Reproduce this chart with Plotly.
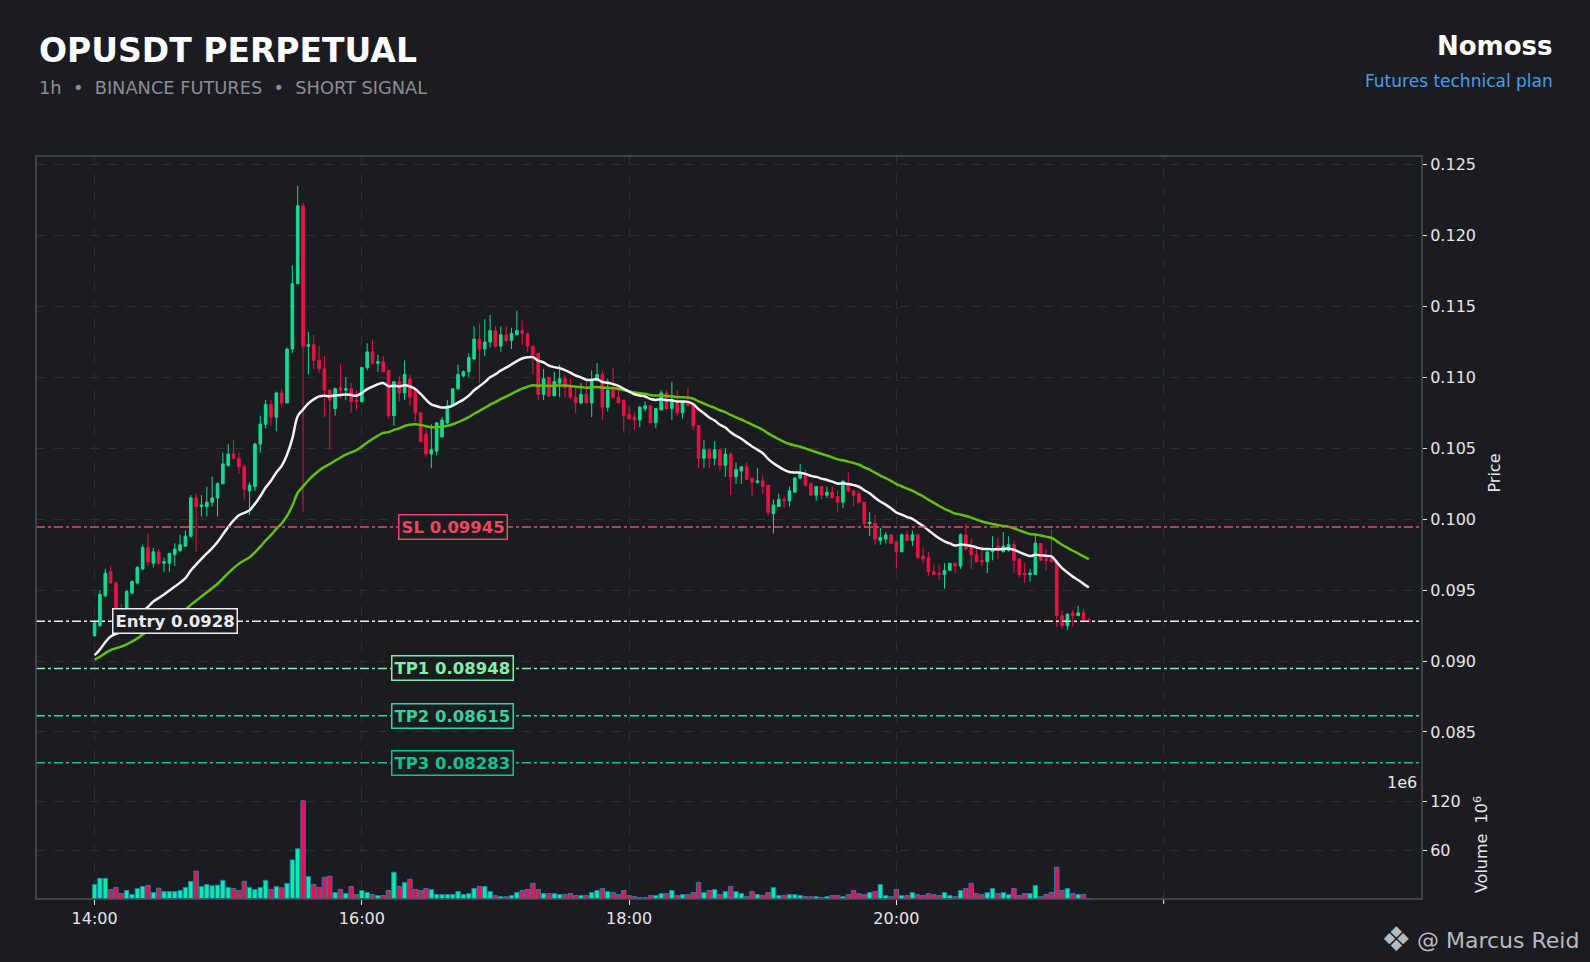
import pandas as pd
import plotly.graph_objects as go
from plotly.subplots import make_subplots

# ---- chart text ----
SYMBOL = "OPUSDT PERPETUAL"
SUBTITLE = "1h\u00a0\u00a0•\u00a0\u00a0BINANCE FUTURES\u00a0\u00a0•\u00a0\u00a0SHORT SIGNAL"
BRAND = "Nomoss"
BRAND_SUB = "Futures technical plan"
WATERMARK = "@ Marcus Reid"

# ---- candles (one every 144 s from 14:00) ----
START = "2024-05-20 14:00:00"
STEP = "144s"

OPEN = [
    0.0918, 0.0925, 0.0946, 0.0963, 0.0955, 0.0937, 0.0932, 0.0948, 0.0955, 0.0965,
    0.0980, 0.0969, 0.0977, 0.0969, 0.0969, 0.0975, 0.0978, 0.0981, 0.0988, 0.1015,
    0.1009, 0.1009, 0.1012, 0.1015, 0.1025, 0.1038, 0.1046, 0.1043, 0.1037, 0.1020,
    0.1023, 0.1053, 0.1067, 0.1081, 0.1072, 0.1089, 0.1082, 0.1120, 0.1166, 0.1221,
    0.1122, 0.1123, 0.1112, 0.1106, 0.1091, 0.1078, 0.1093, 0.1091, 0.1092, 0.1084,
    0.1083, 0.1107, 0.1118, 0.1110, 0.1111, 0.1105, 0.1073, 0.1097, 0.1089, 0.1099,
    0.1091, 0.1075, 0.1060, 0.1046, 0.1048, 0.1058, 0.1068, 0.1080, 0.1092, 0.1101,
    0.1104, 0.1113, 0.1127, 0.1120, 0.1125, 0.1133, 0.1122, 0.1130, 0.1126, 0.1130,
    0.1133, 0.1131, 0.1122, 0.1117, 0.1088, 0.1100, 0.1087, 0.1096, 0.1099, 0.1094,
    0.1086, 0.1082, 0.1088, 0.1082, 0.1098, 0.1102, 0.1079, 0.1091, 0.1086, 0.1084,
    0.1074, 0.1072, 0.1070, 0.1078, 0.1080, 0.1068, 0.1077, 0.1089, 0.1078, 0.1083,
    0.1075, 0.1083, 0.1081, 0.1066, 0.1043, 0.1049, 0.1043, 0.1049, 0.1038, 0.1046,
    0.1030, 0.1034, 0.1037, 0.1029, 0.1026, 0.1027, 0.1024, 0.1004, 0.1009, 0.1014,
    0.1013, 0.1019, 0.1029, 0.1032, 0.1025, 0.1017, 0.1023, 0.1017, 0.1019, 0.1016,
    0.1012, 0.1024, 0.1020, 0.1018, 0.1012, 0.0997, 0.0997, 0.0985, 0.0986, 0.0989,
    0.0984, 0.0977, 0.0989, 0.0985, 0.0989, 0.0974, 0.0973, 0.0963, 0.0962, 0.0961,
    0.0964, 0.0969, 0.0967, 0.0989, 0.0980, 0.0975, 0.0971, 0.0970, 0.0977, 0.0981,
    0.0977, 0.0978, 0.0982, 0.0972, 0.0962, 0.0961, 0.0961, 0.0983, 0.0972, 0.0972,
    0.0970, 0.0932, 0.0925, 0.0934, 0.0932, 0.0934, 0.0929,
]
HIGH = [
    0.0929, 0.0950, 0.0965, 0.0967, 0.0956, 0.0940, 0.0950, 0.0957, 0.0967, 0.0982,
    0.0990, 0.0980, 0.0979, 0.0973, 0.0976, 0.0983, 0.0989, 0.0992, 0.1017, 0.1018,
    0.1017, 0.1023, 0.1030, 0.1026, 0.1047, 0.1053, 0.1056, 0.1047, 0.1039, 0.1026,
    0.1054, 0.1073, 0.1084, 0.1084, 0.1090, 0.1092, 0.1121, 0.1179, 0.1235, 0.1223,
    0.1132, 0.1130, 0.1122, 0.1115, 0.1091, 0.1093, 0.1109, 0.1100, 0.1096, 0.1091,
    0.1107, 0.1124, 0.1126, 0.1116, 0.1115, 0.1105, 0.1097, 0.1101, 0.1112, 0.1102,
    0.1091, 0.1075, 0.1064, 0.1067, 0.1068, 0.1072, 0.1084, 0.1092, 0.1109, 0.1105,
    0.1117, 0.1136, 0.1138, 0.1141, 0.1144, 0.1136, 0.1136, 0.1136, 0.1135, 0.1147,
    0.1140, 0.1131, 0.1122, 0.1117, 0.1106, 0.1100, 0.1104, 0.1109, 0.1102, 0.1099,
    0.1093, 0.1096, 0.1098, 0.1105, 0.1110, 0.1105, 0.1099, 0.1107, 0.1093, 0.1084,
    0.1080, 0.1076, 0.1080, 0.1083, 0.1080, 0.1078, 0.1091, 0.1091, 0.1097, 0.1091,
    0.1083, 0.1093, 0.1081, 0.1066, 0.1056, 0.1049, 0.1055, 0.1049, 0.1050, 0.1047,
    0.1040, 0.1037, 0.1040, 0.1029, 0.1036, 0.1031, 0.1024, 0.1014, 0.1018, 0.1016,
    0.1023, 0.1030, 0.1039, 0.1035, 0.1026, 0.1023, 0.1023, 0.1023, 0.1023, 0.1020,
    0.1027, 0.1033, 0.1020, 0.1020, 0.1012, 0.1005, 0.1003, 0.0994, 0.0991, 0.0989,
    0.0984, 0.0990, 0.0992, 0.0992, 0.0989, 0.0980, 0.0977, 0.0968, 0.0968, 0.0969,
    0.0969, 0.0969, 0.0990, 0.0997, 0.0986, 0.0979, 0.0979, 0.0977, 0.0988, 0.0987,
    0.0991, 0.0988, 0.0985, 0.0972, 0.0969, 0.0965, 0.0989, 0.0983, 0.0979, 0.0993,
    0.0970, 0.0936, 0.0934, 0.0936, 0.0939, 0.0937, 0.0930,
]
LOW = [
    0.0917, 0.0924, 0.0945, 0.0955, 0.0932, 0.0930, 0.0931, 0.0947, 0.0954, 0.0964,
    0.0967, 0.0966, 0.0968, 0.0963, 0.0963, 0.0967, 0.0977, 0.0981, 0.0987, 0.0977,
    0.1002, 0.1002, 0.1009, 0.1002, 0.1025, 0.1037, 0.1042, 0.1032, 0.1014, 0.1003,
    0.1020, 0.1047, 0.1064, 0.1066, 0.1062, 0.1079, 0.1082, 0.1117, 0.1166, 0.1005,
    0.1102, 0.1106, 0.1103, 0.1072, 0.1049, 0.1073, 0.1085, 0.1084, 0.1075, 0.1077,
    0.1082, 0.1105, 0.1109, 0.1104, 0.1104, 0.1071, 0.1066, 0.1083, 0.1084, 0.1080,
    0.1069, 0.1054, 0.1044, 0.1036, 0.1045, 0.1058, 0.1067, 0.1079, 0.1091, 0.1100,
    0.1100, 0.1112, 0.1096, 0.1115, 0.1121, 0.1121, 0.1118, 0.1125, 0.1120, 0.1130,
    0.1123, 0.1118, 0.1102, 0.1084, 0.1084, 0.1086, 0.1087, 0.1086, 0.1086, 0.1085,
    0.1075, 0.1081, 0.1082, 0.1072, 0.1097, 0.1070, 0.1076, 0.1085, 0.1082, 0.1062,
    0.1070, 0.1063, 0.1065, 0.1076, 0.1068, 0.1064, 0.1077, 0.1077, 0.1070, 0.1073,
    0.1071, 0.1080, 0.1063, 0.1036, 0.1036, 0.1036, 0.1038, 0.1034, 0.1030, 0.1017,
    0.1025, 0.1025, 0.1028, 0.1016, 0.1025, 0.1018, 0.1003, 0.0990, 0.1009, 0.1008,
    0.1009, 0.1019, 0.1028, 0.1023, 0.1017, 0.1013, 0.1014, 0.1015, 0.1015, 0.1005,
    0.1008, 0.1019, 0.1009, 0.1011, 0.0994, 0.0988, 0.0982, 0.0982, 0.0983, 0.0983,
    0.0965, 0.0977, 0.0985, 0.0981, 0.0972, 0.0969, 0.0960, 0.0961, 0.0957, 0.0951,
    0.0964, 0.0962, 0.0965, 0.0978, 0.0965, 0.0970, 0.0967, 0.0962, 0.0971, 0.0972,
    0.0977, 0.0977, 0.0962, 0.0959, 0.0955, 0.0956, 0.0961, 0.0971, 0.0964, 0.0970,
    0.0924, 0.0923, 0.0922, 0.0924, 0.0932, 0.0927, 0.0927,
]
CLOSE = [
    0.0927, 0.0947, 0.0962, 0.0955, 0.0937, 0.0934, 0.0949, 0.0956, 0.0966, 0.0980,
    0.0970, 0.0977, 0.0969, 0.0970, 0.0976, 0.0979, 0.0982, 0.0988, 0.1015, 0.1009,
    0.1010, 0.1012, 0.1015, 0.1025, 0.1039, 0.1046, 0.1043, 0.1037, 0.1021, 0.1024,
    0.1053, 0.1067, 0.1081, 0.1072, 0.1089, 0.1082, 0.1120, 0.1166, 0.1221, 0.1122,
    0.1123, 0.1112, 0.1106, 0.1091, 0.1084, 0.1092, 0.1091, 0.1092, 0.1083, 0.1083,
    0.1107, 0.1118, 0.1110, 0.1111, 0.1104, 0.1073, 0.1097, 0.1089, 0.1102, 0.1086,
    0.1075, 0.1055, 0.1046, 0.1049, 0.1068, 0.1070, 0.1080, 0.1092, 0.1102, 0.1104,
    0.1114, 0.1127, 0.1120, 0.1125, 0.1133, 0.1122, 0.1130, 0.1126, 0.1131, 0.1133,
    0.1131, 0.1122, 0.1116, 0.1088, 0.1099, 0.1087, 0.1097, 0.1099, 0.1093, 0.1086,
    0.1082, 0.1088, 0.1082, 0.1098, 0.1102, 0.1079, 0.1091, 0.1086, 0.1082, 0.1073,
    0.1071, 0.1070, 0.1079, 0.1080, 0.1068, 0.1078, 0.1089, 0.1078, 0.1083, 0.1075,
    0.1083, 0.1080, 0.1066, 0.1043, 0.1049, 0.1043, 0.1049, 0.1038, 0.1046, 0.1030,
    0.1035, 0.1037, 0.1028, 0.1026, 0.1027, 0.1023, 0.1005, 0.1010, 0.1014, 0.1013,
    0.1020, 0.1029, 0.1032, 0.1024, 0.1017, 0.1023, 0.1017, 0.1019, 0.1015, 0.1012,
    0.1027, 0.1020, 0.1017, 0.1012, 0.0997, 0.0998, 0.0986, 0.0987, 0.0989, 0.0983,
    0.0977, 0.0989, 0.0985, 0.0989, 0.0973, 0.0972, 0.0963, 0.0961, 0.0961, 0.0964,
    0.0969, 0.0967, 0.0989, 0.0979, 0.0975, 0.0970, 0.0970, 0.0977, 0.0978, 0.0978,
    0.0981, 0.0982, 0.0971, 0.0961, 0.0961, 0.0962, 0.0983, 0.0971, 0.0971, 0.0970,
    0.0932, 0.0925, 0.0933, 0.0932, 0.0934, 0.0929, 0.0928,
]
# volume in millions of contracts
VOLUME = [
    18.0, 25.6, 25.6, 11.7, 14.3, 6.7, 10.5, 5.5, 13.0, 15.5,
    16.8, 8.0, 13.4, 9.2, 9.2, 9.2, 10.5, 14.3, 21.8, 34.4,
    15.5, 18.0, 16.4, 17.2, 23.1, 14.3, 13.0, 10.5, 21.8, 14.3,
    11.7, 14.3, 23.1, 11.7, 15.5, 13.8, 19.3, 48.3, 62.1, 121.3,
    27.7, 18.0, 14.3, 26.9, 28.1, 8.0, 11.7, 6.7, 15.5, 5.5,
    10.5, 8.0, 5.5, 4.2, 4.2, 10.5, 33.1, 15.5, 20.6, 24.3,
    11.7, 10.5, 13.0, 11.7, 5.5, 5.5, 5.5, 5.5, 9.2, 5.5,
    6.7, 13.0, 15.5, 15.5, 9.2, 4.2, 2.9, 2.9, 4.2, 8.0,
    10.5, 11.7, 19.3, 11.7, 6.7, 6.7, 6.7, 5.5, 5.5, 6.7,
    4.2, 4.2, 4.2, 8.0, 10.5, 13.0, 9.2, 8.0, 5.4, 10.5,
    4.2, 2.9, 1.7, 1.7, 4.2, 4.2, 6.7, 6.7, 10.5, 4.2,
    5.4, 5.4, 8.0, 20.5, 8.0, 10.5, 11.7, 5.4, 9.2, 15.5,
    9.2, 6.7, 2.9, 9.2, 5.4, 4.2, 8.0, 14.2, 4.2, 4.2,
    5.4, 5.4, 4.2, 2.9, 2.9, 2.9, 1.7, 2.9, 4.2, 4.2,
    2.9, 5.4, 10.5, 6.7, 5.4, 8.0, 9.2, 18.0, 4.2, 2.9,
    11.7, 4.2, 4.2, 8.0, 5.4, 4.2, 6.7, 5.4, 4.2, 8.0,
    4.2, 2.9, 10.5, 13.0, 19.3, 6.7, 5.4, 8.0, 13.0, 6.7,
    8.0, 5.4, 13.0, 4.2, 6.7, 6.7, 16.8, 2.9, 5.4, 8.0,
    39.4, 10.5, 13.0, 6.7, 5.5, 5.5, 0.5,
]

# moving averages: span and the value carried in from before the window
EMA_FAST_SPAN, EMA_FAST_SEED = 20, 0.09017
EMA_SLOW_SPAN, EMA_SLOW_SEED = 45, 0.08999

# trade plan levels
LEVEL_NAMES = ["SL", "Entry", "TP1", "TP2", "TP3"]
LEVEL_PRICES = [0.09945, 0.0928, 0.08948, 0.08615, 0.08283]
LEVEL_COLORS = ["#f0475e", "#ececec", "#7ff0a8", "#34d399", "#12c48b"]
LEVEL_LABEL_BAR = [67, 15, 67, 67, 67]

PRICE_TICKS = [0.085, 0.090, 0.095, 0.100, 0.105, 0.110, 0.115, 0.120, 0.125]
VOLUME_TICKS = [60, 120]
TIME_TICKS = ["14:00", "16:00", "18:00", "20:00"]
EXTRA_TIME_TICK = "22:00"  # tick and grid line drawn, label left off as in the source

BG = "#1b1c21"
GRID = "#2d2f36"
TEXT = "#e6e6e6"
FONT = "DejaVu Sans"

# plot box in pixels (for placing the header / footer texts)
BOX_L, BOX_T, BOX_W, BOX_H = 36, 156, 1386, 743


def px_x(px):
    return (px - BOX_L) / BOX_W


def px_y(py):
    return (BOX_T + BOX_H - py) / BOX_H


def ema(values, span, seed):
    alpha = 2 / (span + 1)
    out = []
    prev = seed
    for v in values:
        prev = prev + alpha * (v - prev)
        out.append(prev)
    return out


times = pd.date_range(START, periods=len(CLOSE), freq=STEP)
day = times[0].strftime("%Y-%m-%d")

fig = make_subplots(
    rows=2, cols=1, shared_xaxes=True, vertical_spacing=0,
    row_heights=[0.8533, 0.1467],
)

fig.add_trace(
    go.Candlestick(
        x=times, open=OPEN, high=HIGH, low=LOW, close=CLOSE,
        increasing=dict(line=dict(color="#14da92", width=1), fillcolor="#14da92"),
        decreasing=dict(line=dict(color="#ea1240", width=1), fillcolor="#ea1240"),
        showlegend=False, hoverinfo="skip",
    ),
    row=1, col=1,
)
fig.add_trace(
    go.Scatter(
        x=times, y=ema(CLOSE, EMA_SLOW_SPAN, EMA_SLOW_SEED), mode="lines",
        line=dict(color="#62c00c", width=2.5, shape="spline"), showlegend=False,
    ),
    row=1, col=1,
)
fig.add_trace(
    go.Scatter(
        x=times, y=ema(CLOSE, EMA_FAST_SPAN, EMA_FAST_SEED), mode="lines",
        line=dict(color="#f2f2f2", width=2.5, shape="spline"), showlegend=False,
    ),
    row=1, col=1,
)

vol_colors = ["#00f0a0" if c >= o else "#ff0a40" for o, c in zip(OPEN, CLOSE)]
fig.add_trace(
    go.Bar(
        x=times, y=VOLUME, marker=dict(color=vol_colors, line=dict(color="#2a78b8", width=1)),
        width=144000 * 0.82, showlegend=False, hoverinfo="skip",
    ),
    row=2, col=1,
)

# trade plan lines and their labels
for name, price, color, bar in zip(LEVEL_NAMES, LEVEL_PRICES, LEVEL_COLORS, LEVEL_LABEL_BAR):
    fig.add_hline(y=price, line=dict(color=color, width=1.5, dash="dashdot"), row=1, col=1)
    fig.add_annotation(
        x=times[bar], y=price, xref="x", yref="y",
        text=f"<b>{name} {price:g}</b>", showarrow=False,
        font=dict(family=FONT, size=16.5, color=color),
        bgcolor=BG, bordercolor=color, borderwidth=1.5, borderpad=2,
    )

tick_vals = [f"{day} {t}:00" for t in TIME_TICKS]
x_range = [f"{day} 13:33:42", f"{day} 23:56:00"]
fig.update_xaxes(
    range=x_range, tickvals=tick_vals, ticktext=TIME_TICKS,
    showgrid=True, gridcolor=GRID, griddash="dash", gridwidth=1,
    zeroline=False, showline=False, rangeslider_visible=False,
)
fig.update_xaxes(showticklabels=False, ticks="", row=1, col=1)
fig.update_xaxes(
    ticks="outside", ticklen=5, tickcolor=TEXT,
    tickfont=dict(family=FONT, size=16, color=TEXT), row=2, col=1,
)

# unlabelled 22:00 tick: grid line through both panels plus the tick mark
extra_x = f"{day} {EXTRA_TIME_TICK}:00"
for yref in ["y domain", "y2 domain"]:
    fig.add_shape(
        type="line", xref="x", yref=yref, x0=extra_x, x1=extra_x, y0=0, y1=1,
        line=dict(color=GRID, width=1, dash="dash"), layer="below",
    )
fig.add_shape(
    type="line", xref="x", yref="paper", x0=extra_x, x1=extra_x, y0=0, y1=-5 / BOX_H,
    line=dict(color=TEXT, width=1),
)

fig.update_yaxes(
    side="right", showgrid=True, gridcolor=GRID, griddash="dash", zeroline=False,
    ticks="outside", ticklen=4, tickcolor=TEXT,
    tickfont=dict(family=FONT, size=16, color=TEXT),
)
fig.update_yaxes(
    range=[0.08091, 0.12561], tickvals=PRICE_TICKS, tickformat=".3f",
    title=dict(text="Price", font=dict(family=FONT, size=16, color=TEXT), standoff=13),
    row=1, col=1,
)
fig.update_yaxes(
    range=[0, 134.6], tickvals=VOLUME_TICKS,
    title=dict(text="Volume  10<sup>6</sup>", font=dict(family=FONT, size=16, color=TEXT), standoff=16),
    row=2, col=1,
)

# frame round both panels
fig.add_shape(
    type="rect", xref="paper", yref="paper", x0=0, x1=1, y0=0, y1=1,
    line=dict(color="#4b4e56", width=1.5), layer="above",
)

fig.add_annotation(
    x=px_x(1419), y=px_y(782), xref="paper", yref="paper", text="1e6",
    showarrow=False, xanchor="right", yanchor="middle",
    font=dict(family=FONT, size=16, color=TEXT),
)

# header
fig.add_annotation(
    x=px_x(37), y=px_y(50), xref="paper", yref="paper", text=f"<b>{SYMBOL}</b>",
    showarrow=False, xanchor="left", yanchor="middle",
    font=dict(family=FONT, size=33, color="#ffffff"),
)
fig.add_annotation(
    x=px_x(37), y=px_y(87), xref="paper", yref="paper", text=SUBTITLE,
    showarrow=False, xanchor="left", yanchor="middle",
    font=dict(family=FONT, size=17.8, color="#8a8d94"),
)
fig.add_annotation(
    x=px_x(1555), y=px_y(46), xref="paper", yref="paper", text=f"<b>{BRAND}</b>",
    showarrow=False, xanchor="right", yanchor="middle",
    font=dict(family=FONT, size=26, color="#ffffff"),
)
fig.add_annotation(
    x=px_x(1555), y=px_y(81), xref="paper", yref="paper", text=BRAND_SUB,
    showarrow=False, xanchor="right", yanchor="middle",
    font=dict(family=FONT, size=17, color="#4a9de6"),
)

# footer watermark
fig.add_annotation(
    x=px_x(1581), y=px_y(940), xref="paper", yref="paper", text=WATERMARK,
    showarrow=False, xanchor="right", yanchor="middle",
    font=dict(family=FONT, size=22, color="#b8babe"),
)
fig.add_annotation(
    x=px_x(1413), y=px_y(939), xref="paper", yref="paper", text="❖",
    showarrow=False, xanchor="right", yanchor="middle",
    font=dict(family=FONT, size=34, color="#b8babe"),
)

fig.update_layout(
    width=1590, height=962, autosize=False,
    margin=dict(l=BOX_L, r=1590 - BOX_L - BOX_W, t=BOX_T, b=962 - BOX_T - BOX_H),
    paper_bgcolor=BG, plot_bgcolor=BG,
    font=dict(family=FONT, color=TEXT),
    boxgap=0.3, bargap=0.18, hovermode=False,
)

fig.write_html(
    "out.html",
    config={"displayModeBar": False},
    post_script="document.body.style.margin='0';document.body.style.background='#1b1c21';",
)
